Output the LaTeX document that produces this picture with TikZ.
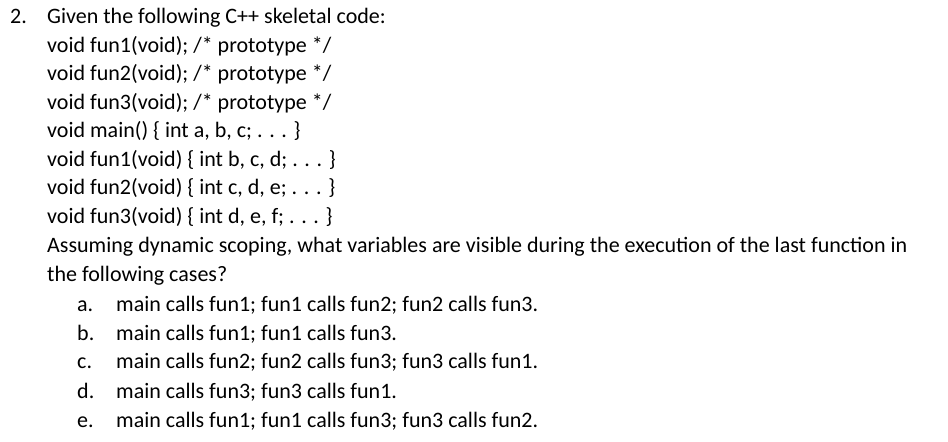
\documentclass[tikz,border=0pt]{standalone}
\usepackage{fontspec}
\setmainfont{Carlito}
\begin{document}
\begin{tikzpicture}[x=1bp,y=-1bp,t/.style={anchor=base west,inner sep=0pt,font=\fontsize{22.1}{26}\selectfont}]
\useasboundingbox (0,0) rectangle (948,442);
\node[t] (n2) at (10,24) {2.};
\node[t] (l1) at (47,24) {Given the following C++ skeletal code:};
\node[t] (l2) at (47,52.5) {void fun1(void); /* prototype */};
\node[t] (l3) at (47,81) {void fun2(void); /* prototype */};
\node[t] (l4) at (47,109.5) {void fun3(void); /* prototype */};
\node[t] (l5) at (47,138) {void main() \{ int a, b, c; . . . \}};
\node[t] (l6) at (47,166.5) {void fun1(void) \{ int b, c, d; . . . \}};
\node[t] (l7) at (47,195) {void fun2(void) \{ int c, d, e; . . . \}};
\node[t] (l8) at (47,223.5) {void fun3(void) \{ int d, e, f; . . . \}};
\node[t] (l9) at (47,253) {Assuming dynamic scoping, what variables are visible during the execution of the last function in};
\node[t] (l10) at (47,282) {the following cases?};
\node[t] (a) at (77,312) {a.};
\node[t] (at) at (116,312) {main calls fun1; fun1 calls fun2; fun2 calls fun3.};
\node[t] (b) at (77,340.5) {b.};
\node[t] (bt) at (116,340.5) {main calls fun1; fun1 calls fun3.};
\node[t] (c) at (77,369) {c.};
\node[t] (ct) at (116,369) {main calls fun2; fun2 calls fun3; fun3 calls fun1.};
\node[t] (d) at (77,398) {d.};
\node[t] (dt) at (116,398) {main calls fun3; fun3 calls fun1.};
\node[t] (e) at (77,427) {e.};
\node[t] (et) at (116,427) {main calls fun1; fun1 calls fun3; fun3 calls fun2.};
\end{tikzpicture}
\end{document}
